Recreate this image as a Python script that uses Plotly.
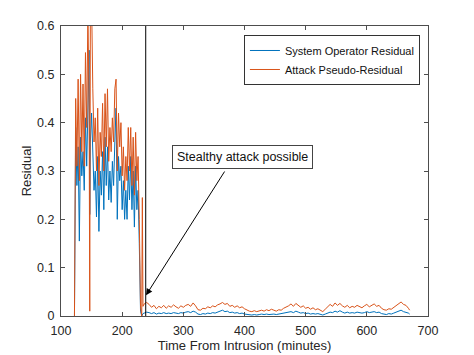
import plotly.graph_objects as go

# ---- data ----
pre_time = [122, 124, 126, 128, 130, 132, 134, 136, 138, 140,
            142, 144, 146, 147, 148, 150, 152, 154, 156, 158,
            160, 162, 164, 166, 168, 170, 172, 174, 176, 178,
            180, 182, 184, 186, 188, 190, 192, 194, 196, 198,
            200, 202, 204, 206, 208, 210, 212, 214, 216, 218,
            220, 222, 224, 226, 228, 230, 232, 233, 234]
pre_attack = [0.00, 0.45, 0.31, 0.49, 0.28, 0.50, 0.34, 0.48, 0.31, 0.545,
              0.39, 0.63, 0.42, 0.01, 0.63, 0.65, 0.47, 0.36, 0.41, 0.30,
              0.43, 0.27, 0.38, 0.33, 0.44, 0.30, 0.46, 0.35, 0.47, 0.32,
              0.39, 0.34, 0.41, 0.36, 0.47, 0.49, 0.30, 0.42, 0.35, 0.40,
              0.29, 0.35, 0.26, 0.33, 0.28, 0.39, 0.30, 0.39, 0.27, 0.37,
              0.25, 0.38, 0.28, 0.33, 0.20, 0.02, 0.00, 0.245, 0.02]
pre_system = [0.00, 0.39, 0.27, 0.35, 0.155, 0.37, 0.29, 0.34, 0.26, 0.41,
              0.31, 0.47, 0.55, 0.21, 0.36, 0.42, 0.34, 0.26, 0.30, 0.205,
              0.33, 0.175, 0.30, 0.25, 0.34, 0.22, 0.37, 0.27, 0.35, 0.24,
              0.30, 0.235, 0.32, 0.27, 0.36, 0.43, 0.20, 0.33, 0.28, 0.31,
              0.22, 0.28, 0.20, 0.26, 0.20, 0.31, 0.24, 0.33, 0.22, 0.30,
              0.184, 0.31, 0.22, 0.26, 0.15, 0.01, 0.00, 0.005, 0.005]

post_time = list(range(236, 669, 4)) + [670]
post_attack = [0.025, 0.028, 0.024, 0.018, 0.022, 0.015, 0.020, 0.017, 0.022, 0.016,
               0.021, 0.018, 0.023, 0.019, 0.016, 0.021, 0.018, 0.022, 0.024, 0.020,
               0.027, 0.021, 0.013, 0.012, 0.016, 0.015, 0.019, 0.017, 0.021, 0.019,
               0.023, 0.025, 0.028, 0.024, 0.026, 0.020, 0.022, 0.018, 0.021, 0.017,
               0.019, 0.015, 0.012, 0.010, 0.009, 0.011, 0.009, 0.010, 0.012, 0.010,
               0.013, 0.011, 0.014, 0.012, 0.010, 0.013, 0.012, 0.016, 0.018, 0.021,
               0.025, 0.020, 0.026, 0.022, 0.018, 0.021, 0.016, 0.018, 0.014, 0.017,
               0.013, 0.015, 0.012, 0.009, 0.014, 0.019, 0.024, 0.020, 0.027, 0.022,
               0.026, 0.021, 0.018, 0.022, 0.017, 0.020, 0.018, 0.022, 0.019, 0.017,
               0.021, 0.024, 0.019, 0.022, 0.025, 0.020, 0.022, 0.016, 0.013, 0.012,
               0.015, 0.014, 0.018, 0.022, 0.026, 0.029, 0.024, 0.022, 0.016,
               0.012]
post_system = [0.006, 0.008, 0.007, 0.005, 0.007, 0.004, 0.006, 0.005, 0.007, 0.005,
               0.006, 0.005, 0.007, 0.006, 0.005, 0.007, 0.006, 0.008, 0.009, 0.007,
               0.010, 0.008, 0.004, 0.003, 0.005, 0.004, 0.006, 0.005, 0.007, 0.006,
               0.008, 0.009, 0.012, 0.009, 0.010, 0.007, 0.008, 0.006, 0.007, 0.005,
               0.006, 0.004, 0.003, 0.002, 0.002, 0.003, 0.002, 0.003, 0.004, 0.003,
               0.004, 0.003, 0.004, 0.004, 0.003, 0.004, 0.004, 0.005, 0.006, 0.007,
               0.009, 0.007, 0.010, 0.008, 0.006, 0.007, 0.005, 0.006, 0.004, 0.005,
               0.004, 0.005, 0.003, 0.002, 0.004, 0.006, 0.008, 0.007, 0.010, 0.008,
               0.011, 0.008, 0.006, 0.008, 0.006, 0.007, 0.006, 0.008, 0.007, 0.006,
               0.007, 0.009, 0.007, 0.008, 0.009, 0.007, 0.008, 0.005, 0.004, 0.003,
               0.005, 0.004, 0.006, 0.008, 0.010, 0.012, 0.009, 0.008, 0.006,
               0.004]

intrusion_marker = 238.5
x_ticks = [100, 200, 300, 400, 500, 600, 700]
y_ticks = [0, 0.1, 0.2, 0.3, 0.4, 0.5, 0.6]

time = pre_time + post_time
system_res = pre_system + post_system
attack_res = pre_attack + post_attack

BLUE = "#0072BD"
ORANGE = "#D95319"
AX = "#4d4d4d"
FONT = "Liberation Sans, Arial, Helvetica, sans-serif"

fig = go.Figure()
fig.add_trace(go.Scatter(x=time, y=system_res, mode="lines",
                         name="System Operator Residual",
                         line=dict(color=BLUE, width=1)))
fig.add_trace(go.Scatter(x=time, y=attack_res, mode="lines",
                         name="Attack Pseudo-Residual",
                         line=dict(color=ORANGE, width=1)))

fig.add_shape(type="line", x0=intrusion_marker, x1=intrusion_marker,
              y0=0, y1=1, xref="x", yref="paper",
              line=dict(color="black", width=1))

# arrow
fig.add_annotation(x=239, y=0.043, ax=369, ay=0.302, xref="x", yref="y",
                   axref="x", ayref="y", text="", showarrow=True,
                   arrowhead=2, arrowsize=1.3, arrowwidth=1, arrowcolor="black")
# text box
fig.add_annotation(x=397.5, y=0.329, xref="x", yref="y", showarrow=False,
                   text="Stealthy attack possible",
                   font=dict(family=FONT, size=12.5, color="#111"),
                   bgcolor="white", bordercolor="#444", borderwidth=1,
                   borderpad=4)

axis_common = dict(showline=True, linecolor=AX, linewidth=1, mirror="ticks",
                   ticks="inside", ticklen=4, tickcolor=AX, showgrid=False,
                   zeroline=False, automargin=False,
                   tickfont=dict(family=FONT, size=12.5, color="#262626"))

fig.update_xaxes(range=[100, 700], tickvals=x_ticks,
                 ticktext=[str(v) for v in x_ticks],
                 ticklabelstandoff=3,
                 title=dict(text="Time From Intrusion (minutes)",
                            font=dict(family=FONT, size=13, color="#262626"),
                            standoff=0),
                 **axis_common)
fig.update_yaxes(range=[0, 0.6], tickvals=y_ticks,
                 ticktext=["0", "0.1", "0.2", "0.3", "0.4", "0.5", "0.6"],
                 ticklabelstandoff=3,
                 title=dict(text="Residual",
                            font=dict(family=FONT, size=13, color="#262626"),
                            standoff=2),
                 **axis_common)

fig.update_layout(
    width=466, height=347,
    margin=dict(l=53, r=46, t=18, b=39),
    paper_bgcolor="white", plot_bgcolor="white",
    showlegend=True,
    legend=dict(x=0.978, y=0.969, xanchor="right", yanchor="top",
                bgcolor="white", bordercolor="#333", borderwidth=1,
                font=dict(family=FONT, size=11, color="#111"),
                itemwidth=30, tracegroupgap=0),
)

fig.write_html("out.html")
